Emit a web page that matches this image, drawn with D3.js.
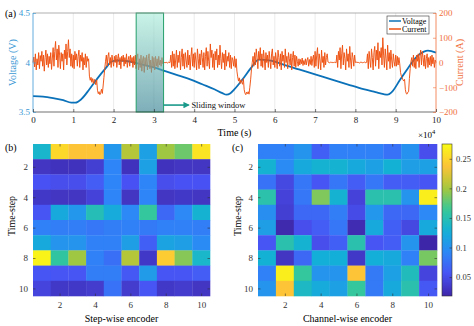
<!DOCTYPE html>
<html>
<head>
<meta charset="utf-8">
<script src="https://cdn.jsdelivr.net/npm/d3@7"></script>
<style>
  body { margin: 0; background: #fff; }
  svg { display: block; font-family: "Liberation Serif", "Times New Roman", serif; }
</style>
</head>
<body>
<svg id="fig" width="474" height="326"></svg>
<script>
// ---------------- data ----------------

// voltage trace, time in units of 1e4 s
const voltT = [0, 0.25, 0.5, 0.75, 0.95, 1.05, 1.2, 1.4, 1.6, 1.8, 1.95, 2.1, 2.4, 2.7, 3.0, 3.3, 3.6, 3.9, 4.2, 4.5,
               4.7, 4.8, 4.9, 5.0, 5.2, 5.4, 5.6, 5.9, 6.2, 6.6, 7.0, 7.4, 7.8, 8.2, 8.5, 8.7, 8.8, 8.9, 9.1, 9.3,
               9.5, 9.7, 9.8, 10]
const voltV = [3.66, 3.655, 3.64, 3.62, 3.595, 3.595, 3.63, 3.73, 3.84, 3.94, 4.01, 4.02, 4.01, 3.98, 3.95, 3.91, 3.87, 3.83, 3.78, 3.73,
               3.69, 3.675, 3.69, 3.73, 3.83, 3.94, 4.03, 4.02, 3.98, 3.93, 3.88, 3.83, 3.78, 3.73, 3.70, 3.68, 3.675, 3.70, 3.82, 3.94,
               4.05, 4.11, 4.12, 4.10]

// current trace, one sample every 0.02 (x1e4 s), in A
const currStep = 0.02
const currA = [
  0, 22, -18, 35, -30, 15, -10, 40, -25, 28, 5, 45, -15, 30, -35, 20, 50, -10, 35, -20, 25, -5, 40, -28, 18,
  60, -15, 45, 85, 10, 55, -20, 70, 30, -25, 40, 5, 35, -30, 50, 15, 75, -10, 45, 92, 20, 55, -15, 35, -20,
  30, -25, 45, 10, 35, -15, 25, 50, -20, 30, 5, 40, -30, 20, -10, 35, -20, 25, 5, 15, -55, -72, -60, -80, -65,
  -85, -68, -78, -90, -70, -112, -126, -118, -130, -122, -108, -125, -95, -60, -25, 5, 30, -15, 25, 40, -10, 20, -20, 30, 5,
  -15, 25, 0, 30, -20, 15, 35, -10, 20, -25, 25, 5, 30, -15, 20, -5, 35, -20, 10, 25, -15, 30, 0, 20, -20,
  25, -10, 30, -25, 20, 35, -30, 15, -20, 30, -35, 10, 25, -40, 20, -15, 30, -30, 15, 35, -25, 10, -40, 25, -20,
  20, -30, 25, -15, 15, -20, 25, -10, 10, -15, 20, -5, 2, 0, -1, 1, 0, -2, 1, 0, 0, 30, -20, 45, -15,
  35, -25, 10, 50, -20, 30, 0, 45, -30, 20, 55, -15, 35, -25, 40, 10, -20, 50, -10, 30, -30, 25, 60, -15, 35,
  -20, 40, 10, -30, 55, 15, -25, 35, -10, 50, 20, -20, 40, -30, 25, 60, -15, 45, 5, -25, 75, 20, 50, -20, 35,
  -30, 45, 10, 55, -20, 30, -10, 70, 15, -25, 40, 0, 35, -30, 50, -15, 25, 5, 40, -20, 30, -25, 20, 10, -15,
  25, -20, 15, -35, -58, -75, -62, -85, -70, -80, -88, -65, -110, -124, -130, -120, -126, -118, -128, -100, -70, -30, 0, 25, -15,
  40, -10, 55, 20, -25, 45, 10, 60, -15, 35, -20, 50, 15, -30, 40, 0, 30, -20, 45, 10, -25, 35, 55, -10, 25,
  -20, 40, 10, -25, 50, 20, -15, 35, -30, 45, 5, 30, -20, 55, 0, 25, -25, 40, 15, -10, 35, -30, 20, 45, -15,
  30, -20, 25, 5, -15, 15, -10, 12, -5, 18, -12, 8, -8, 15, -10, 10, 20, -15, 12, -8, 25, -12, 15, 30, -20,
  45, -15, 30, 60, -25, 35, 10, -30, 50, 0, 25, -20, 40, -10, 20, 35, 2, 0, -1, 1, 0, 2, -1, 0, 1,
  0, -1, 30, -20, 45, 10, 60, -25, 35, 70, -10, 40, 15, -30, 55, 5, 35, -20, 65, 10, -25, 40, 20, -15, 30,
  0, 2, -1, 1, 0, -2, 1, 0, 1, -1, 0, 2, 0, -1, 1, 35, -25, 45, 10, -20, 55, 20, -30, 40, 65,
  -15, 50, 10, 80, -25, 45, 20, 60, -10, 100, 30, -20, 55, 15, -30, 70, 5, 40, -25, 50, 10, -20, 35, 5, -15,
  30, -15, 25, -10, 20, -5, -40, -55, -62, -70, -75, -68, -110, -125, -128, -120, -118, -65, -25, 5, 20, -15, 30, -20, 15,
  -25, 30, 5, 35, -20, 25, 50, -10, 45, 20, -15, 30, -25, 15, 35, -20, 20, -10, 25, -15, 30, -5, 20, -20, 10,
  0
]

// sliding window (x1e4 s)
const windowSpan = [2.56, 3.24]

// attention maps, rows = time-step 1..10, cols = encoder index 1..10
const stepWise = [
  [0.134, 0.252, 0.239, 0.239, 0.105, 0.206, 0.113, 0.198, 0.182, 0.260],
  [0.031, 0.028, 0.028, 0.039, 0.090, 0.028, 0.113, 0.028, 0.031, 0.031],
  [0.054, 0.051, 0.051, 0.062, 0.090, 0.054, 0.090, 0.051, 0.054, 0.054],
  [0.033, 0.031, 0.031, 0.041, 0.090, 0.031, 0.090, 0.031, 0.033, 0.031],
  [0.057, 0.121, 0.105, 0.147, 0.123, 0.093, 0.162, 0.069, 0.093, 0.131],
  [0.087, 0.085, 0.085, 0.080, 0.085, 0.087, 0.082, 0.087, 0.087, 0.085],
  [0.121, 0.103, 0.103, 0.087, 0.087, 0.111, 0.064, 0.116, 0.111, 0.095],
  [0.270, 0.159, 0.198, 0.087, 0.075, 0.206, 0.033, 0.244, 0.190, 0.136],
  [0.057, 0.057, 0.057, 0.085, 0.085, 0.059, 0.108, 0.057, 0.057, 0.062],
  [0.044, 0.033, 0.033, 0.036, 0.077, 0.036, 0.057, 0.033, 0.036, 0.031]
]
const channelWise = [
  [0.087, 0.087, 0.103, 0.064, 0.087, 0.087, 0.087, 0.077, 0.100, 0.051],
  [0.131, 0.095, 0.121, 0.131, 0.131, 0.121, 0.113, 0.129, 0.111, 0.113],
  [0.077, 0.046, 0.080, 0.057, 0.080, 0.062, 0.080, 0.062, 0.062, 0.057],
  [0.154, 0.041, 0.080, 0.188, 0.131, 0.041, 0.152, 0.152, 0.103, 0.267],
  [0.098, 0.039, 0.069, 0.069, 0.085, 0.049, 0.105, 0.069, 0.069, 0.093],
  [0.111, 0.021, 0.051, 0.062, 0.080, 0.023, 0.121, 0.064, 0.046, 0.121],
  [0.057, 0.152, 0.131, 0.051, 0.064, 0.152, 0.057, 0.062, 0.103, 0.018],
  [0.129, 0.031, 0.069, 0.126, 0.126, 0.033, 0.126, 0.121, 0.087, 0.185],
  [0.087, 0.267, 0.162, 0.103, 0.103, 0.239, 0.082, 0.113, 0.144, 0.044],
  [0.103, 0.239, 0.139, 0.123, 0.113, 0.162, 0.082, 0.121, 0.152, 0.059]
]

const timeTicks = [0, 1, 2, 3, 4, 5, 6, 7, 8, 9, 10]
const voltTicks = [3.5, 4, 4.5]
const currTicks = [-200, -100, 0, 100, 200]
const heatTicks = [2, 4, 6, 8, 10]
const cbarTicks = [0.05, 0.1, 0.15, 0.2, 0.25]
const cLim = [0.018, 0.275]

// ---------------- setup ----------------
const svg = d3.select('#fig')
const blue = '#0b72b9', orange = '#ee5010'
const blueText = '#3a98d4', orangeText = '#f0703c'

// parula, sampled at 8 points
const parulaStops = ['#3e26a8', '#4852f4', '#2d87f7', '#12b1d6', '#37c897', '#abc739', '#fec338', '#f9fb15']
const parula = d3.scaleLinear()
  .domain(d3.range(8).map(i => i / 7))
  .range(parulaStops)
  .interpolate(d3.interpolateRgb)
  .clamp(true)
const color = v => parula((v - cLim[0]) / (cLim[1] - cLim[0]))

function styleAxis(g, col, size) {
  g.select('.domain').remove()
  g.selectAll('.tick line').attr('stroke', col).attr('stroke-width', 0.6)
  g.selectAll('.tick text').attr('fill', col).attr('font-size', size)
    .attr('font-family', '"Liberation Serif", serif')
}

// ---------------- (a) voltage / current ----------------
const pa = {left: 33, right: 436, top: 13, bottom: 112}
const x = d3.scaleLinear().domain([0, 10]).range([pa.left, pa.right])
const yV = d3.scaleLinear().domain([3.5, 4.5]).range([pa.bottom, pa.top])
const yI = d3.scaleLinear().domain([-200, 200]).range([pa.bottom, pa.top])

// vertical grid
svg.append('g').selectAll('line')
  .data(timeTicks.slice(1, -1))
  .enter().append('line')
  .attr('x1', d => x(d)).attr('x2', d => x(d))
  .attr('y1', pa.top).attr('y2', pa.bottom)
  .attr('stroke', '#e3e3e3').attr('stroke-width', 0.7)

svg.append('path')
  .datum(voltV)
  .attr('fill', 'none').attr('stroke', blue).attr('stroke-width', 1.8)
  .attr('d', d3.line().x((d, i) => x(voltT[i])).y(d => yV(d)).curve(d3.curveMonotoneX))

svg.append('path')
  .datum(currA)
  .attr('fill', 'none').attr('stroke', orange).attr('stroke-width', 0.95)
  .attr('stroke-linejoin', 'round')
  .attr('d', d3.line().x((d, i) => x(i * currStep)).y(d => yI(d)))

// sliding window box
const defs = svg.append('defs')
const wg = defs.append('linearGradient').attr('id', 'winGrad')
  .attr('x1', 0).attr('y1', 0).attr('x2', 0).attr('y2', 1)
wg.append('stop').attr('offset', '0%').attr('stop-color', '#a8ecd8')
wg.append('stop').attr('offset', '100%').attr('stop-color', '#2f7d8e')

svg.append('rect')
  .attr('x', x(windowSpan[0])).attr('y', pa.top)
  .attr('width', x(windowSpan[1]) - x(windowSpan[0]))
  .attr('height', pa.bottom - pa.top)
  .attr('fill', 'url(#winGrad)').attr('fill-opacity', 0.62)
  .attr('stroke', '#24a06a').attr('stroke-width', 1)

defs.append('marker').attr('id', 'arrowHead')
  .attr('viewBox', '0 0 10 10').attr('refX', 8).attr('refY', 5)
  .attr('markerWidth', 4).attr('markerHeight', 4).attr('orient', 'auto')
  .append('path').attr('d', 'M0,0L10,5L0,10z').attr('fill', '#1a9a8a')

svg.append('line')
  .attr('x1', x(windowSpan[1])).attr('x2', x(3.86))
  .attr('y1', yV(3.57)).attr('y2', yV(3.57))
  .attr('stroke', '#1a9a8a').attr('stroke-width', 1.6)
  .attr('marker-end', 'url(#arrowHead)')

svg.append('text')
  .attr('x', x(3.93)).attr('y', yV(3.57) + 3)
  .attr('font-size', 8.5).attr('fill', '#111')
  .text('Sliding window')

// frame
svg.append('line').attr('x1', pa.left).attr('x2', pa.right).attr('y1', pa.top).attr('y2', pa.top)
  .attr('stroke', '#8c8c8c').attr('stroke-width', 0.7)
svg.append('line').attr('x1', pa.left).attr('x2', pa.right).attr('y1', pa.bottom).attr('y2', pa.bottom)
  .attr('stroke', '#333').attr('stroke-width', 0.7)
svg.append('line').attr('x1', pa.left).attr('x2', pa.left).attr('y1', pa.top).attr('y2', pa.bottom)
  .attr('stroke', blueText).attr('stroke-width', 0.8)
svg.append('line').attr('x1', pa.right).attr('x2', pa.right).attr('y1', pa.top).attr('y2', pa.bottom)
  .attr('stroke', orangeText).attr('stroke-width', 0.8)

svg.append('g').attr('transform', `translate(0,${pa.bottom})`)
  .call(d3.axisBottom(x).tickValues(timeTicks).tickSize(-3).tickPadding(5).tickFormat(d3.format('d')))
  .call(g => styleAxis(g, '#222', 9))
svg.append('g').attr('transform', `translate(${pa.left},0)`)
  .call(d3.axisLeft(yV).tickValues(voltTicks).tickSize(-3).tickPadding(3).tickFormat(d3.format('')))
  .call(g => styleAxis(g, blueText, 9))
svg.append('g').attr('transform', `translate(${pa.right},0)`)
  .call(d3.axisRight(yI).tickValues(currTicks).tickSize(-3).tickPadding(3).tickFormat(d3.format('d')))
  .call(g => styleAxis(g, orangeText, 9))

svg.append('text').attr('x', 5).attr('y', 17).attr('font-size', 10).text('(a)')
svg.append('text').attr('transform', `translate(16,${(pa.top + pa.bottom) / 2}) rotate(-90)`)
  .attr('text-anchor', 'middle').attr('font-size', 10).attr('fill', blueText).text('Voltage (V)')
svg.append('text').attr('transform', `translate(463,${(pa.top + pa.bottom) / 2}) rotate(-90)`)
  .attr('text-anchor', 'middle').attr('font-size', 10).attr('fill', orangeText).text('Current (A)')
svg.append('text').attr('x', (pa.left + pa.right) / 2).attr('y', 136)
  .attr('text-anchor', 'middle').attr('font-size', 10).text('Time (s)')
const expo = svg.append('text').attr('x', 418).attr('y', 138).attr('font-size', 9)
expo.append('tspan').text('\u00d710')
expo.append('tspan').attr('dy', -4).attr('font-size', 6.5).text('4')

// legend
const leg = svg.append('g').attr('transform', 'translate(387,16)')
leg.append('rect').attr('width', 42).attr('height', 18).attr('fill', '#fff')
  .attr('stroke', '#333').attr('stroke-width', 0.6)
;[['Voltage', blue], ['Current', orange]].forEach((d, i) => {
  leg.append('line').attr('x1', 2).attr('x2', 14).attr('y1', 5 + i * 8).attr('y2', 5 + i * 8)
    .attr('stroke', d[1]).attr('stroke-width', 1.5)
  leg.append('text').attr('x', 15).attr('y', 8 + i * 8).attr('font-size', 8).text(d[0])
})

// ---------------- (b) and (c) heatmaps ----------------
function heatmap(data, x0, x1, y0, y1, xLabel, letter, letterX, yLabelX) {
  const hx = d3.scaleLinear().domain([0.5, 10.5]).range([x0, x1])
  const hy = d3.scaleLinear().domain([0.5, 10.5]).range([y0, y1])
  const g = svg.append('g')
  data.forEach((row, r) => {
    g.selectAll(null).data(row).enter().append('rect')
      .attr('x', (d, c) => hx(c + 0.5))
      .attr('y', hy(r + 0.5))
      .attr('width', hx(1.5) - hx(0.5) + 0.3)
      .attr('height', hy(1.5) - hy(0.5) + 0.3)
      .attr('fill', d => color(d))
  })
  g.append('g').attr('transform', `translate(0,${y1})`)
    .call(d3.axisBottom(hx).tickValues(heatTicks).tickSize(-2.5).tickPadding(6))
    .call(a => styleAxis(a, '#333', 9))
  g.append('g').attr('transform', `translate(0,${y0})`)
    .call(d3.axisTop(hx).tickValues(heatTicks).tickSize(-2.5).tickFormat(''))
    .call(a => styleAxis(a, '#333', 9))
  g.append('g').attr('transform', `translate(${x0},0)`)
    .call(d3.axisLeft(hy).tickValues(heatTicks).tickSize(-2.5).tickPadding(5))
    .call(a => styleAxis(a, '#333', 9))
  g.append('g').attr('transform', `translate(${x1},0)`)
    .call(d3.axisRight(hy).tickValues(heatTicks).tickSize(-2.5).tickFormat(''))
    .call(a => styleAxis(a, '#333', 9))

  svg.append('text').attr('x', (x0 + x1) / 2).attr('y', 322)
    .attr('text-anchor', 'middle').attr('font-size', 10).text(xLabel)
  svg.append('text').attr('transform', `translate(${yLabelX},${(y0 + y1) / 2 - 4}) rotate(-90)`)
    .attr('text-anchor', 'middle').attr('font-size', 10).text('Time-step')
  svg.append('text').attr('x', letterX).attr('y', 151).attr('font-size', 10).text(letter)
}

heatmap(stepWise, 33, 210, 144, 296, 'Step-wise encoder', '(b)', 5, 15)
heatmap(channelWise, 258, 437, 144, 296, 'Channel-wise encoder', '(c)', 232, 241)

// colorbar
const cb = {x: 442, w: 10, top: 144, bottom: 296}
const cbScale = d3.scaleLinear().domain(cLim).range([cb.bottom, cb.top])
const cg = defs.append('linearGradient').attr('id', 'cbGrad')
  .attr('x1', 0).attr('y1', 1).attr('x2', 0).attr('y2', 0)
cg.selectAll('stop').data(d3.range(0, 1.0001, 0.05)).enter().append('stop')
  .attr('offset', d => d * 100 + '%').attr('stop-color', d => parula(d))
svg.append('rect').attr('x', cb.x).attr('y', cb.top).attr('width', cb.w).attr('height', cb.bottom - cb.top)
  .attr('fill', 'url(#cbGrad)').attr('stroke', '#333').attr('stroke-width', 0.6)
svg.append('g').attr('transform', `translate(${cb.x + cb.w},0)`)
  .call(d3.axisRight(cbScale).tickValues(cbarTicks).tickSize(-2.5).tickPadding(4).tickFormat(d3.format('')))
  .call(a => styleAxis(a, '#333', 8.5))
</script>
</body>
</html>
